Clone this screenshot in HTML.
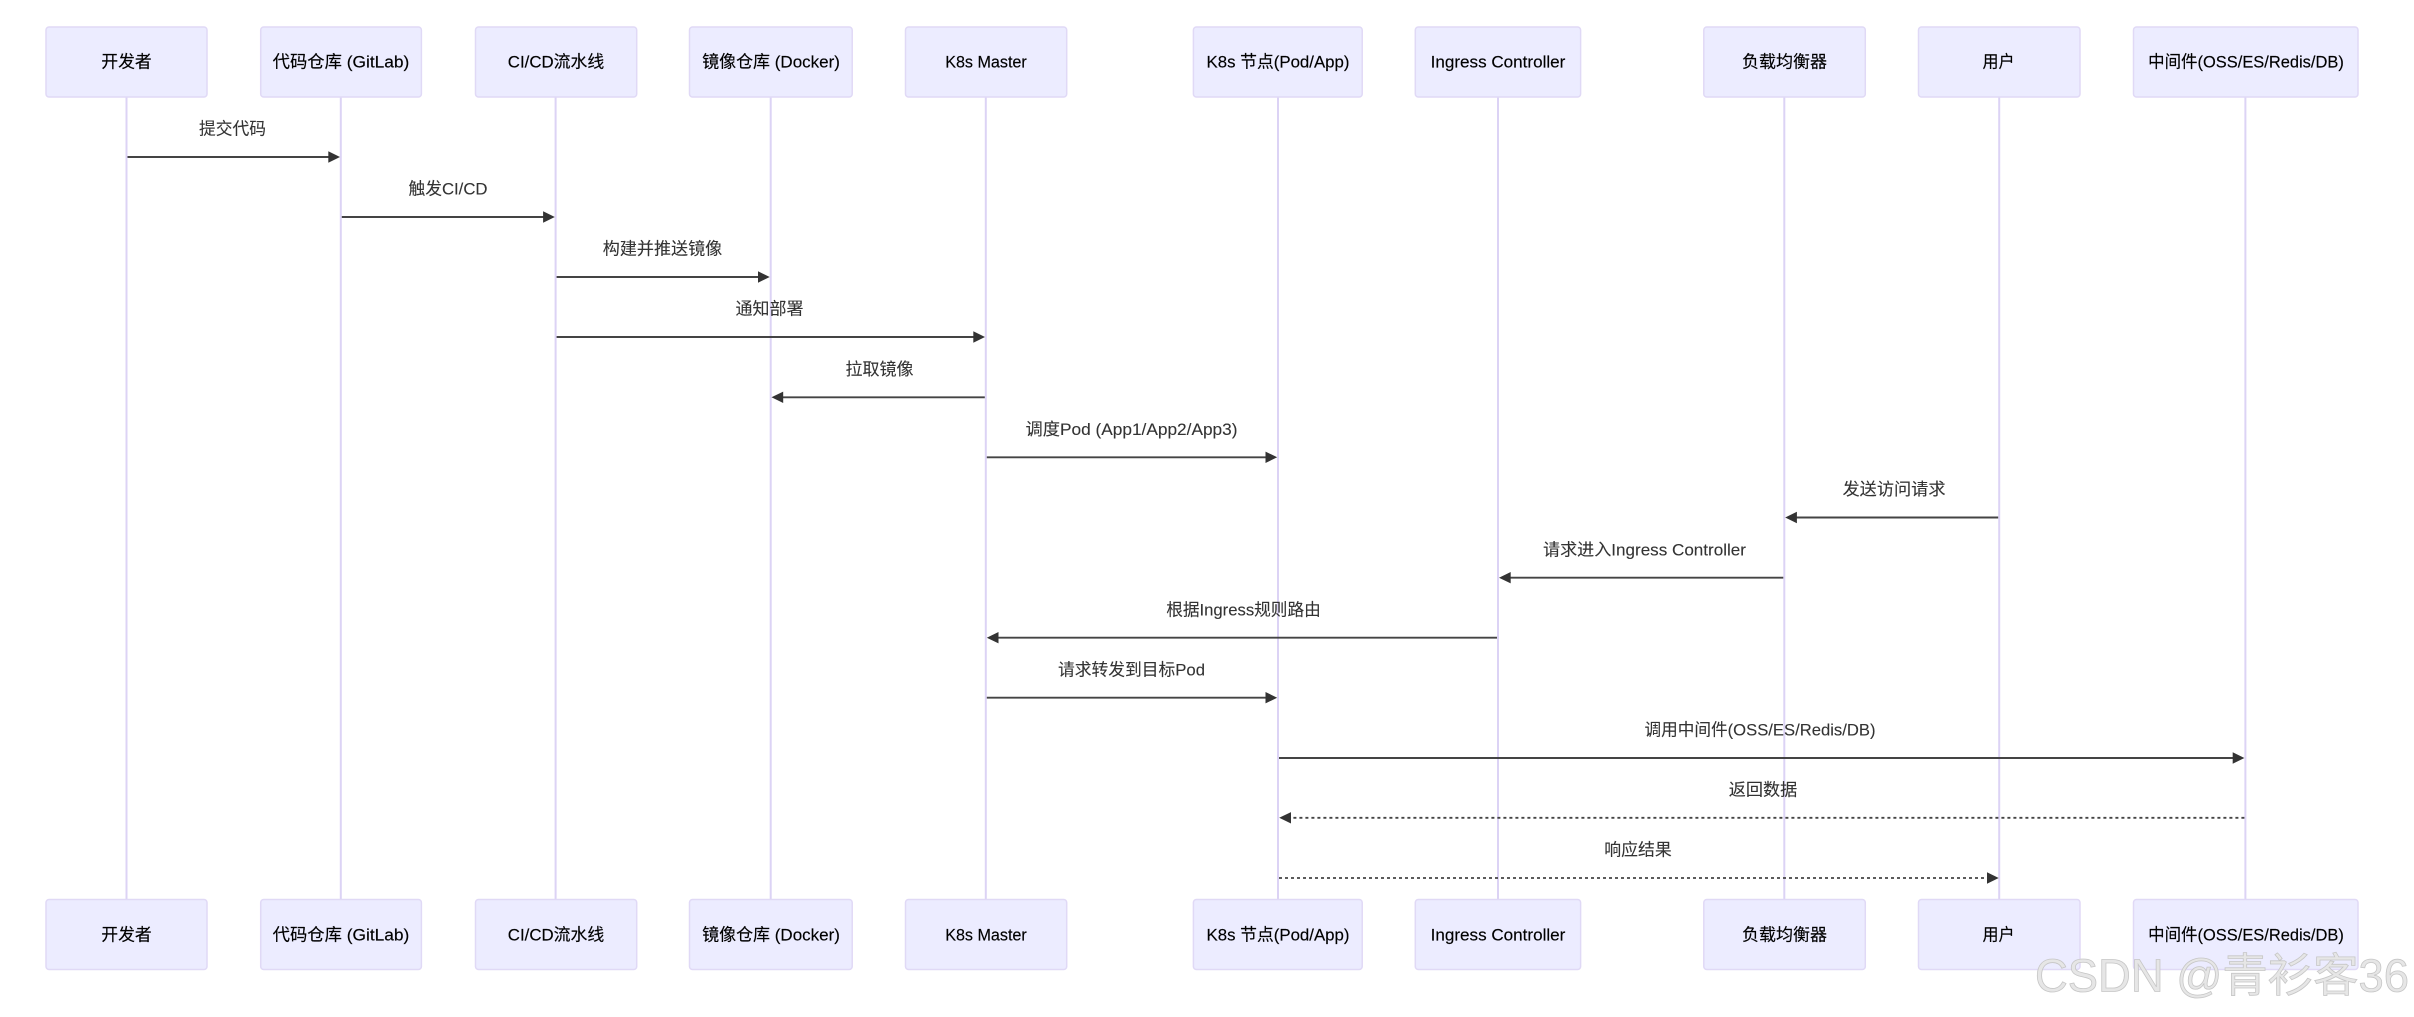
<!DOCTYPE html>
<html lang="zh">
<head>
<meta charset="utf-8">
<title>Sequence Diagram</title>
<style>
html,body{margin:0;padding:0;background:#fff;width:2414px;height:1017px;overflow:hidden}
svg{display:block;filter:blur(.35px)}
text{font-family:"Liberation Sans","Noto Sans CJK SC",sans-serif;font-size:16.8px;text-anchor:middle}
.b{fill:#ececff;stroke:#e0d9f6;stroke-width:1.5}
.l{stroke:#dcd3f5;stroke-width:2;fill:none}
.a{fill:#000;stroke:#000;stroke-width:.15}
.t{fill:#333;stroke:#333;stroke-width:.1}
.m{stroke:#444;stroke-width:1.9;fill:none}
.d{stroke:#444;stroke-width:1.8;fill:none;stroke-dasharray:3 3}
.h{fill:#333}
</style>
</head>
<body>
<svg width="2414" height="1017" viewBox="0 0 2414 1017" xmlns="http://www.w3.org/2000/svg">
<rect width="2414" height="1017" fill="#fff"/>
<!-- lifelines -->
<line class="l" x1="126.5" y1="97" x2="126.5" y2="900"/>
<line class="l" x1="340.8" y1="97" x2="340.8" y2="900"/>
<line class="l" x1="555.6" y1="97" x2="555.6" y2="900"/>
<line class="l" x1="770.7" y1="97" x2="770.7" y2="900"/>
<line class="l" x1="985.8" y1="97" x2="985.8" y2="900"/>
<line class="l" x1="1278" y1="97" x2="1278" y2="900"/>
<line class="l" x1="1498" y1="97" x2="1498" y2="900"/>
<line class="l" x1="1784.3" y1="97" x2="1784.3" y2="900"/>
<line class="l" x1="1999.2" y1="97" x2="1999.2" y2="900"/>
<line class="l" x1="2245.4" y1="97" x2="2245.4" y2="900"/>
<!-- top boxes -->
<rect class="b" x="46" y="27" width="161" height="70" rx="3"/>
<rect class="b" x="260.7" y="27" width="160.7" height="70" rx="3"/>
<rect class="b" x="475.5" y="27" width="161.2" height="70" rx="3"/>
<rect class="b" x="689.5" y="27" width="162.7" height="70" rx="3"/>
<rect class="b" x="905.5" y="27" width="161.2" height="70" rx="3"/>
<rect class="b" x="1193.4" y="27" width="168.8" height="70" rx="3"/>
<rect class="b" x="1415.3" y="27" width="165.3" height="70" rx="3"/>
<rect class="b" x="1703.8" y="27" width="161.5" height="70" rx="3"/>
<rect class="b" x="1918.5" y="27" width="161.5" height="70" rx="3"/>
<rect class="b" x="2133.5" y="27" width="224.5" height="70" rx="3"/>
<text class="a" x="126.5" y="67.5" textLength="50.5" lengthAdjust="spacingAndGlyphs">开发者</text>
<text class="a" x="341" y="67.5" textLength="136.7" lengthAdjust="spacingAndGlyphs">代码仓库 (GitLab)</text>
<text class="a" x="556" y="67.5" textLength="96.4" lengthAdjust="spacingAndGlyphs">CI/CD流水线</text>
<text class="a" x="771" y="67.5" textLength="137.8" lengthAdjust="spacingAndGlyphs">镜像仓库 (Docker)</text>
<text class="a" x="986" y="67.5" textLength="81.6" lengthAdjust="spacingAndGlyphs">K8s Master</text>
<text class="a" x="1278" y="67.5" textLength="142.9" lengthAdjust="spacingAndGlyphs">K8s 节点(Pod/App)</text>
<text class="a" x="1498" y="67.5" textLength="134.7" lengthAdjust="spacingAndGlyphs">Ingress Controller</text>
<text class="a" x="1784.5" y="67.5" textLength="85" lengthAdjust="spacingAndGlyphs">负载均衡器</text>
<text class="a" x="1998.5" y="67.5" textLength="32" lengthAdjust="spacingAndGlyphs">用户</text>
<text class="a" x="2246" y="67.5" textLength="195.7" lengthAdjust="spacingAndGlyphs">中间件(OSS/ES/Redis/DB)</text>
<!-- bottom boxes -->
<rect class="b" x="46" y="899.5" width="161" height="70" rx="3"/>
<rect class="b" x="260.7" y="899.5" width="160.7" height="70" rx="3"/>
<rect class="b" x="475.5" y="899.5" width="161.2" height="70" rx="3"/>
<rect class="b" x="689.5" y="899.5" width="162.7" height="70" rx="3"/>
<rect class="b" x="905.5" y="899.5" width="161.2" height="70" rx="3"/>
<rect class="b" x="1193.4" y="899.5" width="168.8" height="70" rx="3"/>
<rect class="b" x="1415.3" y="899.5" width="165.3" height="70" rx="3"/>
<rect class="b" x="1703.8" y="899.5" width="161.5" height="70" rx="3"/>
<rect class="b" x="1918.5" y="899.5" width="161.5" height="70" rx="3"/>
<rect class="b" x="2133.5" y="899.5" width="224.5" height="70" rx="3"/>
<text class="a" x="126.5" y="940.5" textLength="50.5" lengthAdjust="spacingAndGlyphs">开发者</text>
<text class="a" x="341" y="940.5" textLength="136.7" lengthAdjust="spacingAndGlyphs">代码仓库 (GitLab)</text>
<text class="a" x="556" y="940.5" textLength="96.4" lengthAdjust="spacingAndGlyphs">CI/CD流水线</text>
<text class="a" x="771" y="940.5" textLength="137.8" lengthAdjust="spacingAndGlyphs">镜像仓库 (Docker)</text>
<text class="a" x="986" y="940.5" textLength="81.6" lengthAdjust="spacingAndGlyphs">K8s Master</text>
<text class="a" x="1278" y="940.5" textLength="142.9" lengthAdjust="spacingAndGlyphs">K8s 节点(Pod/App)</text>
<text class="a" x="1498" y="940.5" textLength="134.7" lengthAdjust="spacingAndGlyphs">Ingress Controller</text>
<text class="a" x="1784.5" y="940.5" textLength="85" lengthAdjust="spacingAndGlyphs">负载均衡器</text>
<text class="a" x="1998.5" y="940.5" textLength="32" lengthAdjust="spacingAndGlyphs">用户</text>
<text class="a" x="2246" y="940.5" textLength="195.7" lengthAdjust="spacingAndGlyphs">中间件(OSS/ES/Redis/DB)</text>
<!-- messages -->
<line class="m" x1="127.5" y1="157" x2="330" y2="157"/><polygon class="h" points="340,157 328.3,151.3 328.3,162.7"/>
<text class="t" x="232.5" y="134.7" textLength="67" lengthAdjust="spacingAndGlyphs">提交代码</text>
<line class="m" x1="341.8" y1="217" x2="545" y2="217"/><polygon class="h" points="554.8,217 543.1,211.3 543.1,222.7"/>
<text class="t" x="448" y="194.7" textLength="79" lengthAdjust="spacingAndGlyphs">触发CI/CD</text>
<line class="m" x1="556.6" y1="277" x2="760" y2="277"/><polygon class="h" points="769.7,277 758,271.3 758,282.7"/>
<text class="t" x="662.5" y="254.7" textLength="119.4" lengthAdjust="spacingAndGlyphs">构建并推送镜像</text>
<line class="m" x1="556.6" y1="337" x2="976" y2="337"/><polygon class="h" points="985,337 973.3,331.3 973.3,342.7"/>
<text class="t" x="769.5" y="314.7" textLength="68" lengthAdjust="spacingAndGlyphs">通知部署</text>
<line class="m" x1="984.8" y1="397.3" x2="781" y2="397.3"/><polygon class="h" points="771.5,397.3 783.2,391.6 783.2,403"/>
<text class="t" x="879.5" y="375" textLength="68" lengthAdjust="spacingAndGlyphs">拉取镜像</text>
<line class="m" x1="986.8" y1="457.3" x2="1268" y2="457.3"/><polygon class="h" points="1277.2,457.3 1265.5,451.6 1265.5,463"/>
<text class="t" x="1131.5" y="435" textLength="212" lengthAdjust="spacingAndGlyphs">调度Pod (App1/App2/App3)</text>
<line class="m" x1="1998.2" y1="517.5" x2="1795" y2="517.5"/><polygon class="h" points="1785.2,517.5 1796.9,511.8 1796.9,523.2"/>
<text class="t" x="1894" y="495.2" textLength="103" lengthAdjust="spacingAndGlyphs">发送访问请求</text>
<line class="m" x1="1783.3" y1="577.7" x2="1509" y2="577.7"/><polygon class="h" points="1499,577.7 1510.7,572 1510.7,583.4"/>
<text class="t" x="1644.5" y="555.4" textLength="203" lengthAdjust="spacingAndGlyphs">请求进入Ingress Controller</text>
<line class="m" x1="1497" y1="637.7" x2="997" y2="637.7"/><polygon class="h" points="986.8,637.7 998.5,632 998.5,643.4"/>
<text class="t" x="1243.5" y="615.4" textLength="154.6" lengthAdjust="spacingAndGlyphs">根据Ingress规则路由</text>
<line class="m" x1="986.8" y1="697.7" x2="1268" y2="697.7"/><polygon class="h" points="1277.2,697.7 1265.5,692 1265.5,703.4"/>
<text class="t" x="1131.5" y="675.4" textLength="147" lengthAdjust="spacingAndGlyphs">请求转发到目标Pod</text>
<line class="m" x1="1279" y1="758" x2="2235" y2="758"/><polygon class="h" points="2244.4,758 2232.7,752.3 2232.7,763.7"/>
<text class="t" x="1760" y="735.7" textLength="231" lengthAdjust="spacingAndGlyphs">调用中间件(OSS/ES/Redis/DB)</text>
<line class="d" x1="2244.4" y1="817.8" x2="1289" y2="817.8"/><polygon class="h" points="1279.2,817.8 1291,812.1 1291,823.5"/>
<text class="t" x="1763" y="795.4" textLength="68.5" lengthAdjust="spacingAndGlyphs">返回数据</text>
<line class="d" x1="1279" y1="878" x2="1989" y2="878"/><polygon class="h" points="1998.7,878 1987,872.3 1987,883.7"/>
<text class="t" x="1638" y="855.7" textLength="67.5" lengthAdjust="spacingAndGlyphs">响应结果</text>
<!-- watermark -->
<text x="2222" y="991.5" style="font-size:46px;fill:#e6e6e6;stroke:#c6c6c6;stroke-width:.8" textLength="374" lengthAdjust="spacingAndGlyphs">CSDN @青衫客36</text>
</svg>
</body>
</html>
